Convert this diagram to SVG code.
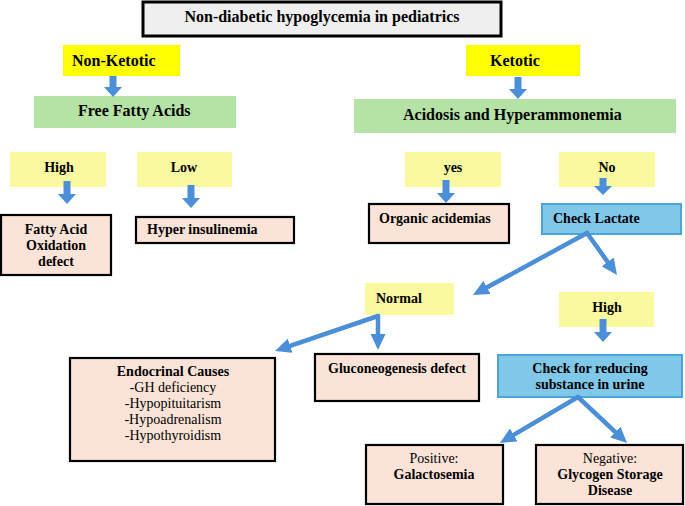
<svg xmlns="http://www.w3.org/2000/svg" width="685" height="506" viewBox="0 0 685 506">
<defs>
<style>
text{font-family:"Liberation Serif","Times New Roman",serif;fill:#000}
.b{font-weight:bold;font-size:14px}
.r{font-size:14px}
.big{font-weight:bold;font-size:16px}
.m{text-anchor:middle}
.ybig{fill:#ffff00}
.ylt{fill:#fbf9a0}
.grn{fill:#b5e2a5}
.pink{fill:#fbe4d7;stroke:#000;stroke-width:2.2}
.blue{fill:#80c8ea;stroke:#4fa3d6;stroke-width:2}
.blk{fill:#4a8fd7}
.ln{stroke:#4a8fd7;stroke-width:4.5;fill:none;stroke-linecap:round;marker-end:url(#ah)}
</style>
<marker id="ah" markerUnits="userSpaceOnUse" markerWidth="16" markerHeight="15" refX="4" refY="7.5" orient="auto">
<path d="M0,0 L16,7.5 L0,15 Z" fill="#4a8fd7"/>
</marker>
</defs>

<g id="title">
<rect x="143" y="2" width="358" height="34" fill="#efefef" stroke="#000" stroke-width="3"/>
<text class="big m" x="322" y="22">Non-diabetic hypoglycemia in pediatrics</text>
</g>
<g id="nonketotic">
<rect class="ybig" x="63" y="45" width="117" height="31"/>
<text class="big" x="72" y="66">Non-Ketotic</text>
</g>
<g id="ketotic">
<rect class="ybig" x="466" y="45" width="114" height="31"/>
<text class="big" x="490" y="66">Ketotic</text>
</g>
<g id="ffa">
<rect class="grn" x="34" y="96" width="202" height="32"/>
<text class="big" x="78" y="116">Free Fatty Acids</text>
</g>
<g id="acidosis">
<rect class="grn" x="354" y="99" width="322" height="34"/>
<text class="big" x="403" y="120">Acidosis and Hyperammonemia</text>
</g>
<g id="high1">
<rect class="ylt" x="10" y="152" width="96" height="35"/>
<text class="b m" x="59" y="172">High</text>
</g>
<g id="low">
<rect class="ylt" x="137" y="152" width="95" height="35"/>
<text class="b m" x="184" y="172">Low</text>
</g>
<g id="yes">
<rect class="ylt" x="405" y="152" width="96" height="35"/>
<text class="b m" x="453" y="172">yes</text>
</g>
<g id="no">
<rect class="ylt" x="559" y="152" width="96" height="35"/>
<text class="b m" x="607" y="172">No</text>
</g>
<g id="fao">
<rect class="pink" x="1" y="215" width="110" height="60"/>
<text class="b m" x="56" y="234">Fatty Acid</text>
<text class="b m" x="56" y="250">Oxidation</text>
<text class="b m" x="56" y="266">defect</text>
</g>
<g id="hyperins">
<rect class="pink" x="136" y="217" width="158" height="26"/>
<text class="b" x="147" y="234">Hyper insulinemia</text>
</g>
<g id="organic">
<rect class="pink" x="369" y="204" width="140" height="39"/>
<text class="b" x="379" y="223">Organic acidemias</text>
</g>
<g id="lactate">
<rect class="blue" x="542" y="204" width="139" height="30"/>
<text class="b" x="553" y="223">Check Lactate</text>
</g>
<g id="normal">
<rect class="ylt" x="365" y="283" width="89" height="32"/>
<text class="b" x="376" y="303">Normal</text>
</g>
<g id="high2">
<rect class="ylt" x="559" y="292" width="95" height="35"/>
<text class="b m" x="607" y="312">High</text>
</g>
<g id="endocrine">
<rect class="pink" x="70" y="358" width="205" height="103"/>
<text class="b m" x="173" y="376">Endocrinal Causes</text>
<text class="r m" x="173" y="392">-GH deficiency</text>
<text class="r m" x="173" y="408">-Hypopituitarism</text>
<text class="r m" x="173" y="424">-Hypoadrenalism</text>
<text class="r m" x="173" y="440">-Hypothyroidism</text>
</g>
<g id="gluco">
<rect class="pink" x="315" y="354" width="164" height="47"/>
<text class="b" x="328" y="373">Gluconeogenesis defect</text>
</g>
<g id="reducing">
<rect class="blue" x="498" y="355" width="184" height="42"/>
<text class="b m" x="590" y="373">Check for reducing</text>
<text class="b m" x="590" y="389">substance in urine</text>
</g>
<g id="positive">
<rect class="pink" x="366" y="445" width="137" height="59"/>
<text class="r m" x="434" y="463">Positive:</text>
<text class="b m" x="434" y="479">Galactosemia</text>
</g>
<g id="negative">
<rect class="pink" x="536" y="445" width="147" height="59"/>
<text class="r m" x="610" y="463">Negative:</text>
<text class="b m" x="610" y="479">Glycogen Storage</text>
<text class="b m" x="610" y="495">Disease</text>
</g>

<g id="connectors">
<polygon class="blk" points="109.5,76 116.5,76 116.5,87 122,87 113,97 104,87 109.5,87"/>
<polygon class="blk" points="514.5,77 521.5,77 521.5,89 527,89 518,99 509,89 514.5,89"/>
<polygon class="blk" points="63.5,181 70.5,181 70.5,194 76,194 67,204 58,194 63.5,194"/>
<polygon class="blk" points="187.5,185 194.5,185 194.5,198 200,198 191,208 182,198 187.5,198"/>
<polygon class="blk" points="442.5,180 449.5,180 449.5,193 455,193 446,203 437,193 442.5,193"/>
<polygon class="blk" points="599.5,178 606.5,178 606.5,186 612,186 603,195 594,186 599.5,186"/>
<polygon class="blk" points="599.5,319 606.5,319 606.5,332 612,332 603,342 594,332 599.5,332"/>
<line class="ln" x1="587" y1="233" x2="483.5" y2="289.3"/>
<line class="ln" x1="587" y1="233" x2="610" y2="265.2"/>
<line class="ln" x1="378" y1="316" x2="286.4" y2="347.1"/>
<line class="ln" x1="378" y1="316" x2="378" y2="338"/>
<line class="ln" x1="578" y1="397" x2="510.3" y2="436.9"/>
<line class="ln" x1="578" y1="397" x2="618.3" y2="434.8"/>
</g>
</svg>
